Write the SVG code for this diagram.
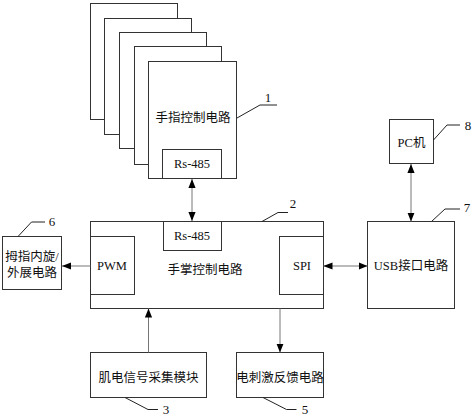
<svg xmlns="http://www.w3.org/2000/svg" width="474" height="417" viewBox="0 0 474 417">
<defs>
<style>
.box{fill:#fff;stroke:#333;stroke-width:1}
.ln{fill:none;stroke:#777;stroke-width:1}
.lead{fill:none;stroke:#222;stroke-width:1}
.t{font-family:"Liberation Serif","Noto Sans CJK SC",serif;font-size:12.5px;fill:#111;text-anchor:middle;dominant-baseline:central}
.n{font-family:"Liberation Serif",serif;font-size:13px;fill:#111;text-anchor:middle;dominant-baseline:central}
</style>
<marker id="ah" viewBox="0 0 10 10" refX="10" refY="5" markerWidth="9" markerHeight="9" markerUnits="userSpaceOnUse" orient="auto-start-reverse">
<path d="M0,1 L10,5 L0,9 Z" fill="#000"/>
</marker>
</defs>
<rect width="474" height="417" fill="#fff"/>

<g id="finger-stack">
<rect class="box" x="90.5" y="3.5" width="87" height="116"/>
<rect class="box" x="104.5" y="18.5" width="87" height="116"/>
<rect class="box" x="119.5" y="32.5" width="87" height="116"/>
<rect class="box" x="134.5" y="46.5" width="87" height="118"/>
</g>
<g id="node1">
<rect class="box" x="148.5" y="61.5" width="88" height="117"/>
<rect class="box" x="162.5" y="149.5" width="59" height="29"/>
<text class="t" x="193" y="118">手指控制电路</text>
<text class="t" x="192" y="164">Rs-485</text>
<polyline class="lead" points="237,118 260,105 277,105"/>
<text class="n" x="268" y="97">1</text>
</g>
<g id="node2">
<rect class="box" x="90.5" y="221.5" width="233" height="87"/>
<rect class="box" x="163.5" y="221.5" width="58" height="29"/>
<rect class="box" x="90.5" y="236.5" width="44" height="58"/>
<rect class="box" x="279.5" y="236.5" width="44" height="58"/>
<text class="t" x="192" y="236">Rs-485</text>
<text class="t" x="112" y="266">PWM</text>
<text class="t" x="302" y="266">SPI</text>
<text class="t" x="205" y="270">手掌控制电路</text>
<polyline class="lead" points="262,221.5 278,212.5 288,212.5"/>
<text class="n" x="293" y="203">2</text>
</g>
<g id="node6">
<rect class="box" x="2.5" y="236.5" width="59" height="53"/>
<text class="t" x="32" y="256.5">拇指内旋/</text>
<text class="t" x="32" y="273">外展电路</text>
<polyline class="lead" points="18,236.5 31.5,222 45,222"/>
<text class="n" x="52" y="221">6</text>
</g>
<g id="node7">
<rect class="box" x="367.5" y="221.5" width="87" height="87"/>
<text class="t" x="411" y="266">USB接口电路</text>
<polyline class="lead" points="431.5,221.5 445,209 460,209"/>
<text class="n" x="467" y="207">7</text>
</g>
<g id="node8">
<rect class="box" x="389.5" y="119.5" width="44" height="44"/>
<text class="t" x="411.5" y="142.5">PC机</text>
<polyline class="lead" points="433.5,140 447,125 460,125"/>
<text class="n" x="468" y="125">8</text>
</g>
<g id="node3">
<rect class="box" x="90.5" y="352.5" width="116" height="45"/>
<text class="t" x="148.5" y="377.5">肌电信号采集模块</text>
<polyline class="lead" points="125,397.5 148,409.5 158,409.5"/>
<text class="n" x="166" y="409">3</text>
</g>
<g id="node5">
<rect class="box" x="236.5" y="352.5" width="87" height="45"/>
<text class="t" x="280" y="377.5">电刺激反馈电路</text>
<polyline class="lead" points="263,397.5 286.5,409.5 296.5,409.5"/>
<text class="n" x="305" y="409">5</text>
</g>

<g id="connectors">
<line class="ln" x1="192" y1="179" x2="192" y2="221" marker-start="url(#ah)" marker-end="url(#ah)"/>
<line class="ln" x1="90.5" y1="266" x2="62" y2="266" marker-end="url(#ah)"/>
<line class="ln" x1="323.5" y1="266" x2="367.5" y2="266" marker-start="url(#ah)" marker-end="url(#ah)"/>
<line class="ln" x1="411" y1="164" x2="411" y2="221.5" marker-start="url(#ah)" marker-end="url(#ah)"/>
<line class="ln" x1="148.5" y1="352.5" x2="148.5" y2="308.5" marker-end="url(#ah)"/>
<line class="ln" x1="280" y1="308.5" x2="280" y2="352.5" marker-end="url(#ah)"/>
</g>
</svg>
